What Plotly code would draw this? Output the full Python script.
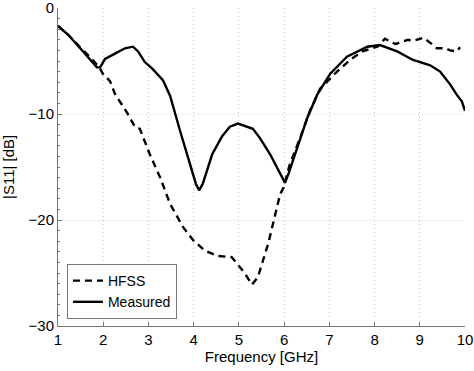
import plotly.graph_objects as go

# HFSS (simulated) |S11|
hfss_f = [1.0, 1.22, 1.49, 1.77, 1.93, 1.99, 2.15, 2.26, 2.53, 2.7, 2.81, 3.03, 3.26, 3.48,
          3.77, 3.99, 4.25, 4.54, 4.84, 5.02, 5.11, 5.29, 5.42, 5.65, 5.8, 5.91, 5.98, 6.13,
          6.35, 6.58, 6.8, 7.17, 7.46, 7.73, 8.06, 8.19, 8.23, 8.46, 8.74, 8.85, 9.08, 9.3,
          9.38, 9.56, 9.67, 9.82, 9.89]
hfss_db = [-1.7, -2.5, -3.7, -4.9, -5.7, -6.2, -6.9, -8.1, -9.9, -11.2, -11.4, -13.8, -16.0, -18.5,
           -20.7, -21.9, -22.9, -23.4, -23.5, -24.5, -24.9, -26.1, -25.4, -22.2, -19.4, -17.6, -17.0, -14.7,
           -12.3, -9.6, -7.6, -6.0, -4.9, -4.1, -3.65, -3.0, -2.9, -3.4, -3.0, -3.1, -2.8, -3.5,
           -3.8, -3.8, -4.0, -4.1, -3.7]

# Measured |S11|
meas_f = [1.0, 1.22, 1.49, 1.7, 1.86, 1.93, 2.04, 2.26, 2.48, 2.66, 2.77, 2.92, 3.08, 3.32,
          3.41, 3.48, 3.7, 3.92, 4.05, 4.12, 4.2, 4.41, 4.63, 4.8, 4.98, 5.31, 5.47, 5.69,
          5.9, 6.02, 6.1, 6.29, 6.51, 6.73, 7.02, 7.39, 7.84, 8.12, 8.5, 8.85, 9.23, 9.45,
          9.67, 9.82, 9.93, 10.0]
meas_db = [-1.7, -2.5, -3.8, -4.8, -5.6, -5.6, -4.8, -4.3, -3.8, -3.65, -4.1, -5.1, -5.7, -6.8,
           -7.6, -8.3, -11.6, -14.7, -16.6, -17.2, -16.6, -13.8, -12.1, -11.2, -10.9, -11.4, -12.3, -13.8,
           -15.6, -16.5, -15.6, -13.2, -10.4, -8.2, -6.2, -4.6, -3.65, -3.5, -4.1, -4.9, -5.4, -6.0,
           -7.2, -8.2, -8.8, -9.7]

x_ticks = [1, 2, 3, 4, 5, 6, 7, 8, 9, 10]
y_ticks = [0, -10, -20, -30]

FONT = "Liberation Sans, Arial"
FS = 15

fig = go.Figure()
fig.add_trace(go.Scatter(x=hfss_f, y=hfss_db, mode="lines", name="HFSS",
                         line=dict(color="black", width=2.4, dash="7px,5px")))
fig.add_trace(go.Scatter(x=meas_f, y=meas_db, mode="lines", name="Measured",
                         line=dict(color="black", width=2.4)))

axis_common = dict(showline=True, linecolor="#777777", linewidth=1,
                   showgrid=True, gridcolor="#c8c8c8", griddash="1px,3px", gridwidth=1,
                   zeroline=False, ticks="inside", ticklen=4, tickcolor="#777777",
                   tickfont=dict(family=FONT, size=FS, color="black"),
                   ticklabeloverflow="allow",
                   mirror=False, automargin=False)

fig.update_xaxes(range=[1, 10], tickvals=x_ticks,
                 title=dict(text="Frequency [GHz]", font=dict(family=FONT, size=FS, color="black"), standoff=4),
                 **axis_common)
fig.update_yaxes(range=[-30, 0], tickvals=y_ticks,
                 minor=dict(dtick=1, ticks="inside", ticklen=2, tickcolor="#777777", showgrid=False),
                 **axis_common)

fig.add_annotation(text="|S11| [dB]", xref="paper", yref="paper", x=-0.123, y=0.5,
                   textangle=-90, showarrow=False, xanchor="center", yanchor="middle",
                   font=dict(family=FONT, size=FS, color="black"))

fig.update_layout(
    width=474, height=371,
    margin=dict(l=58, r=9, t=8, b=45, autoexpand=False),
    plot_bgcolor="white", paper_bgcolor="white",
    showlegend=True,
    legend=dict(x=0.022, y=0.022, xanchor="left", yanchor="bottom",
                bgcolor="white", bordercolor="#777777", borderwidth=1,
                font=dict(family=FONT, size=14, color="black"),
                tracegroupgap=0, itemwidth=30),
)

fig.write_html("out.html", config={"displayModeBar": False},
               post_script="document.body.style.margin='0';")
